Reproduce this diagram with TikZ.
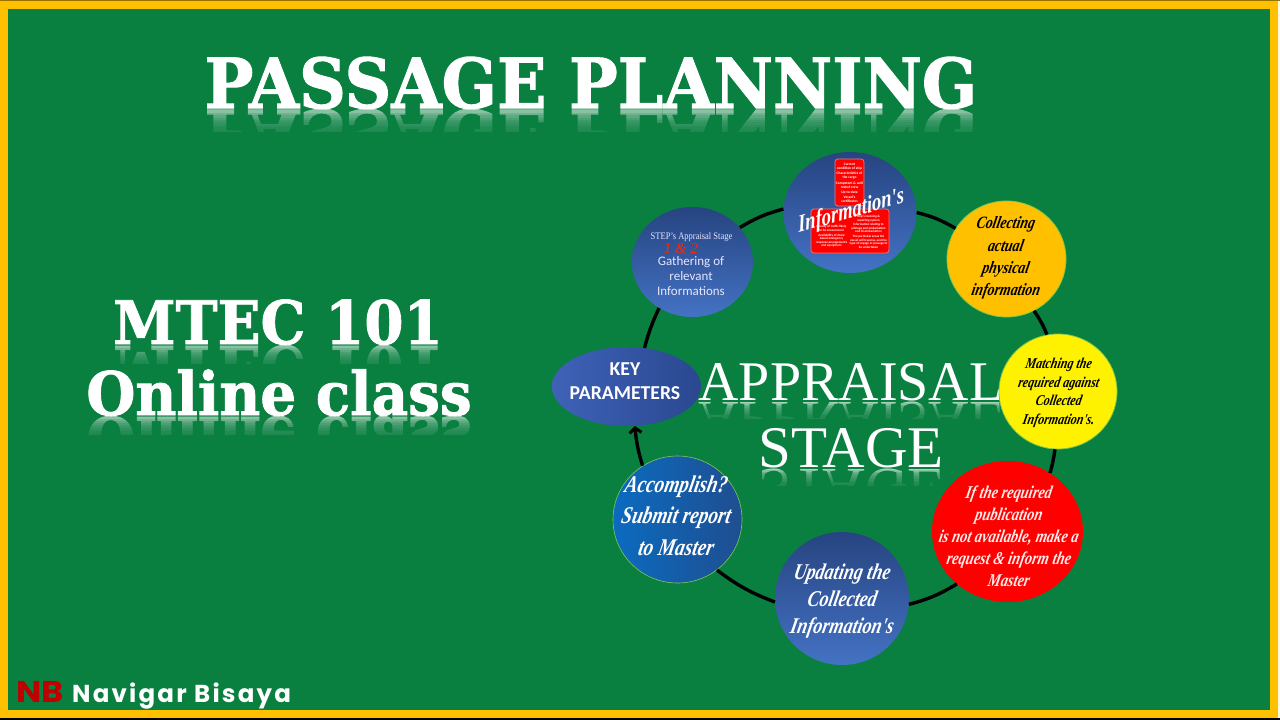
\documentclass[tikz,border=0pt]{standalone}
\usepackage{fontspec}
\setmainfont{Liberation Serif}
\newfontface\slabf[FakeBold=1.5]{DejaVu Serif Bold}
\newfontfamily\carf{Carlito}
\newfontface\logof[LetterSpace=9]{Poppins Bold}
\newfontface\nbf{Poppins Bold}
\newfontface\scrf[FakeStretch=0.8,FakeSlant=0.2]{Liberation Serif Bold Italic}
\usetikzlibrary{shapes.geometric,arrows.meta}
\definecolor{board}{HTML}{0A8040}
\definecolor{frame}{HTML}{FFC000}
\definecolor{blued}{HTML}{264480}
\definecolor{bluel}{HTML}{4472C4}
\definecolor{keyl}{HTML}{3F62B8}
\definecolor{keyr}{HTML}{2A4890}
\definecolor{acca}{HTML}{0B6BC0}
\definecolor{accb}{HTML}{1F4E90}
\definecolor{edgegreen}{HTML}{7FC850}
\newcommand{\scr}[2]{\scrf\fontsize{#1}{#2}\selectfont}
\tikzset{
 x=1pt,y=-1pt,
 bluedisc/.style={ellipse,inner sep=0pt,top color=blued,bottom color=bluel},
 conn/.style={line width=3.4pt,draw=black},
 bigtitle/.style={text=white,inner sep=0pt,anchor=base},
 mirror/.style={text=white,inner sep=0pt,anchor=base,yscale=-1,transform shape},
 lab/.style={inner sep=0pt,align=center},
 tiny/.style={inner sep=0pt,align=center,text=white,font=\carf\bfseries\fontsize{3.2}{3.6}\selectfont},
 redbox/.style={rounded corners=3pt,fill=red,draw=red!55!white,line width=.7pt,inner sep=0pt}
}
\begin{document}
\begin{tikzpicture}
\useasboundingbox (0,0) rectangle (1280,720);
\fill[black] (0,0) rectangle (1280,720);
\fill[frame] (0,0) rectangle (1280,718);
\fill[frame!60!black] (0,0) rectangle (1280,1);
\fill[white!90!frame] (1278,1) rectangle (1280,718);
\fill[board] (8,9) rectangle (1270,710);
% reflections
\node[mirror,xscale=.94] (titleR) at (591,110) {\slabf\fontsize{69}{69}\selectfont PASSAGE PLANNING};
\node[mirror,xscale=.94] (mtecR) at (278,346) {\slabf\fontsize{60}{60}\selectfont MTEC 101};
\node[mirror,xscale=.94] (onlineR) at (279,417) {\slabf\fontsize{60}{60}\selectfont Online class};
\node[mirror] (appR) at (851,402) {\fontsize{56}{56}\selectfont APPRAISAL};
\node[mirror] (stgR) at (851,469) {\fontsize{59}{59}\selectfont STAGE};
% fade the reflections into the board
\foreach \yy/\hh/\xa/\xb in {108/24/195/990,344/20/105/450,415/20/75/485,401/18/690/1005,468/18/750/950}{
 \fill[board,opacity=.35] (\xa,\yy) rectangle (\xb,\yy+\hh);
 \foreach \i in {1,...,9}{
  \fill[board,opacity=.2] (\xa,\yy+\i*\hh/10) rectangle (\xb,\yy+\hh);
 }
 \fill[board] (\xa,\yy+\hh) rectangle (\xb,\yy+\hh+36);
}
% titles
\node[bigtitle,xscale=.94,transform shape] (title) at (591,108) {\slabf\fontsize{69}{69}\selectfont PASSAGE PLANNING};
\node[bigtitle,xscale=.94,transform shape] (mtec) at (278,344) {\slabf\fontsize{60}{60}\selectfont MTEC 101};
\node[bigtitle,xscale=.94,transform shape] (online) at (279,415) {\slabf\fontsize{60}{60}\selectfont Online class};
\node[bigtitle] (app) at (851,400) {\fontsize{56}{56}\selectfont APPRAISAL};
\node[bigtitle] (stg) at (851,467) {\fontsize{59}{59}\selectfont STAGE};
% discs
\node[bluedisc,minimum width=133pt,minimum height=121pt] (info) at (850,212.5) {};
\node[bluedisc,minimum width=121pt,minimum height=110pt] (stepc) at (692.5,262) {};
\node[ellipse,inner sep=0pt,fill=frame,draw=edgegreen,line width=.8pt,minimum width=119pt,minimum height=116pt] (coll) at (1006.5,259) {};
\node[ellipse,inner sep=0pt,fill=yellow,draw=edgegreen,line width=.8pt,minimum width=118pt,minimum height=115pt] (match) at (1058,391.5) {};
\node[ellipse,inner sep=0pt,fill=red,minimum width=151pt,minimum height=141pt] (reqd) at (1007.5,531.5) {};
\node[bluedisc,minimum width=134pt,minimum height=133pt] (upd) at (842,598.5) {};
\node[ellipse,inner sep=0pt,left color=acca,right color=accb,draw=edgegreen,line width=.6pt,minimum width=129pt,minimum height=127pt] (acc) at (677.5,519.5) {};
\node[ellipse,inner sep=0pt,left color=keyl,right color=keyr,minimum width=149pt,minimum height=79pt] (key) at (626.5,386.5) {};
% connectors
\draw[conn] (stepc.36) to[bend left=8] (info.177);
\draw[conn] (info.0) to[bend left=8] (coll.149);
\draw[conn] (coll.-62) to[bend left=6] (match.101);
\draw[conn] (match.-93) to[bend left=4] (reqd.54);
\draw[conn] (reqd.-134) to[bend left=8] (upd.-5.5);
\draw[conn] (upd.183) to[bend left=8] (acc.-52);
\draw[conn,-{Straight Barb[length=5pt,width=12pt,line width=3pt]}] (acc.123) to[bend left=6] (key.-78);
\draw[conn] (key.65) to[bend left=5] (stepc.234);
% information boxes
\node[redbox,minimum width=29pt,minimum height=47pt] (boxa) at (849.5,182.5) {};
\node[redbox,minimum width=78pt,minimum height=44pt] (boxb) at (850,231) {};
\node[tiny,font=\carf\bfseries\fontsize{3.6}{4.2}\selectfont] (boxat) at (849.5,182.5) {Current\\condition of ship\\[1.2pt]Characteristics of\\the cargo\\[1.2pt]Competent \& well\\rested crew\\[1.2pt]Up-to-date\\Vessel's\\certificates};
\node[tiny,anchor=north] (boxbl) at (831.5,225) {Density of traffic likely\\to be encountered\\[1.5pt]Availability of shore\\based emergency\\response arrangements\\and equipment};
\node[tiny,anchor=north] (boxbr) at (868.5,215) {Ship's routeing \&\\reporting system\\[1pt]Information relating to\\pilotage and embarkation\\and disembarkation\\[1pt]The particular areas the\\vessel will traverse, and the\\type of voyage or passage to\\be undertaken};
\node[lab,text=white,rotate=16] (infot) at (850,212) {\scr{24}{24}Information's};
% step text
\node[lab,text=white!90!blue,xscale=.85,transform shape] (stept) at (691.5,237) {\fontsize{10}{11}\selectfont STEP's Appraisal Stage};
\node[lab,text=red!85!yellow] (stepn) at (681,249) {\fontsize{15}{15}\selectfont\itshape 1 \& 2};
\node[lab,text=white!90!blue,font=\carf\fontsize{13}{15}\selectfont] (stepg) at (691,276.5) {Gathering of\\relevant\\Informations};
% disc text
\node[lab,text=white,font=\carf\bfseries\fontsize{19.7}{24}\selectfont] (keyt) at (625,381) {KEY\\PARAMETERS};
\node[lab,text=black,font=\scr{17.3}{22.3}] (collt) at (1005,258) {Collecting\\actual\\physical\\information};
\node[lab,text=black,font=\scr{15}{18.7}] (matcht) at (1058,393) {Matching the\\required against\\Collected\\Information's.};
\node[lab,text=white!92!red,font=\scr{18}{22}] (reqt) at (1008,536) {If the required\\publication\\is not available, make a\\request \& inform the\\Master};
\node[lab,text=white,font=\scr{22.5}{27}] (updt) at (841,601) {Updating the\\Collected\\Information's};
\node[lab,text=white,font=\scr{24}{31.5}] (acct) at (675,515.5) {Accomplish?\\Submit report\\to Master};
% logo
\node[inner sep=0pt,anchor=base west,text=red!75!black,xscale=1.12,transform shape] (nb) at (16,702) {\nbf\fontsize{30}{30}\selectfont NB};
\node[inner sep=0pt,anchor=base west,text=white] (nav) at (72,702) {\logof\fontsize{24.5}{24.5}\selectfont Navigar Bisaya};
\end{tikzpicture}
\end{document}
